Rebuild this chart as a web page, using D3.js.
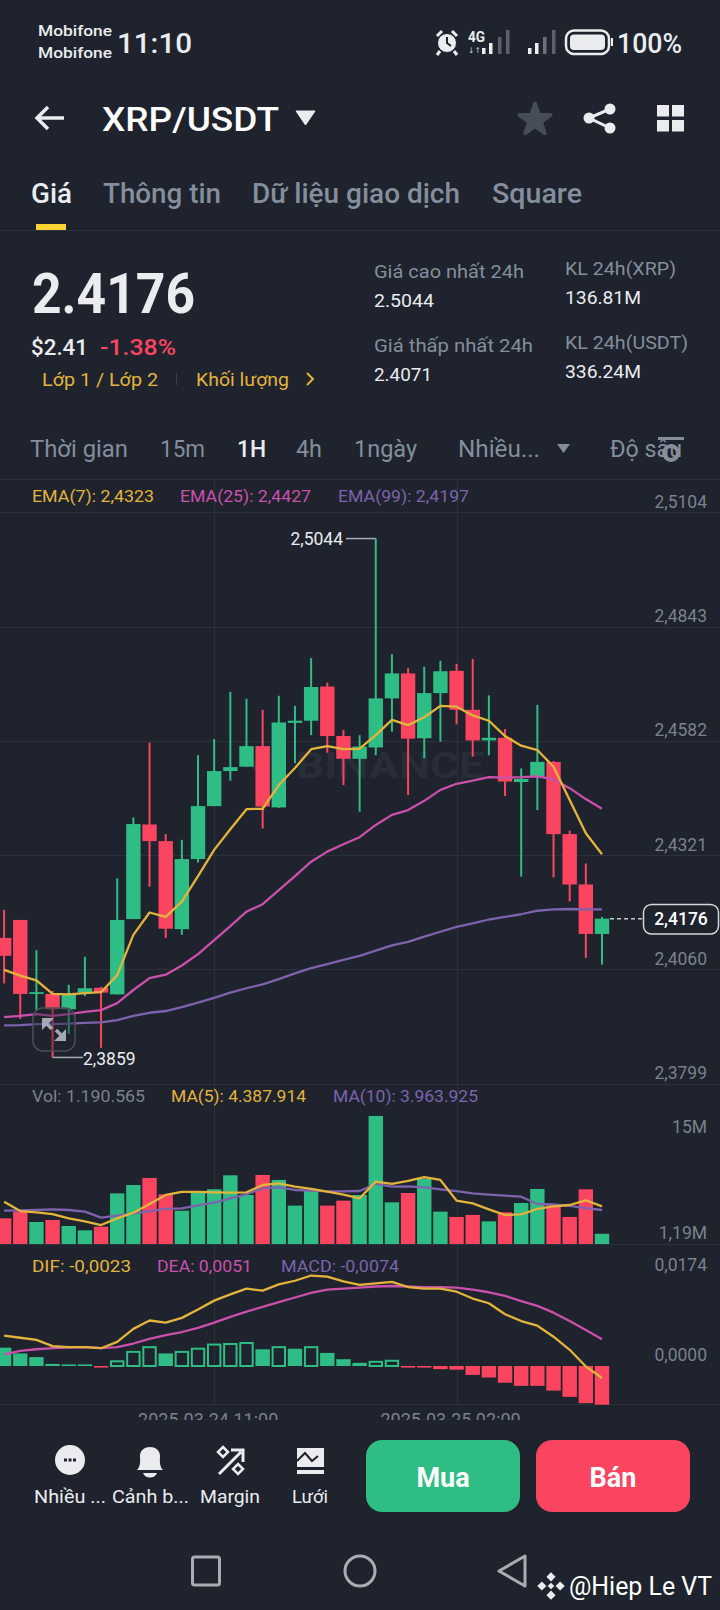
<!DOCTYPE html>
<html>
<head>
<meta charset="utf-8">
<script src="https://cdn.jsdelivr.net/npm/d3@7"></script>
<style>
html, body { margin: 0; background: #1e232d; }
svg { display: block; font-family: Roboto, "Noto Sans", sans-serif; }
.tick line, .domain { shape-rendering: crispEdges; }
</style>
</head>
<body>
<script>
// values
const open = [2.4132,2.4173,2.4004,2.4004,2.3969,2.4007,2.4018,2.4003,2.4175,2.4391,2.4353,2.4152,2.4312,2.4433,2.4513,2.4523,2.4570,2.4430,2.4623,2.4628,2.4706,2.4593,2.4541,2.4567,2.4679,2.4736,2.4588,2.4691,2.4742,2.4653,2.4583,2.4589,2.4488,2.4500,2.4534,2.4369,2.4254,2.4141]
const close = [2.4091,2.4004,2.4008,2.3969,2.4004,2.4017,2.4007,2.4173,2.4392,2.4353,2.4153,2.4312,2.4433,2.4513,2.4522,2.4570,2.4432,2.4624,2.4628,2.4705,2.4593,2.4541,2.4569,2.4679,2.4736,2.4587,2.4691,2.4741,2.4653,2.4583,2.4589,2.4489,2.4495,2.4534,2.4369,2.4254,2.4141,2.4176]
const high = [2.4196,2.4173,2.4104,2.4011,2.4025,2.4089,2.4020,2.4268,2.4407,2.4578,2.4369,2.4356,2.4549,2.4586,2.4694,2.4678,2.4653,2.4685,2.4662,2.4771,2.4715,2.4607,2.4595,2.5044,2.4780,2.4748,2.4751,2.4765,2.4758,2.4769,2.4686,2.4609,2.4519,2.4664,2.4536,2.4377,2.4302,2.4180]
const low = [2.4028,2.3947,2.3967,2.3859,2.3913,2.3999,2.3881,2.4003,2.4175,2.4249,2.4132,2.4139,2.4304,2.4433,2.4491,2.4523,2.4382,2.4429,2.4531,2.4595,2.4555,2.4481,2.4420,2.4549,2.4603,2.4458,2.4542,2.4580,2.4620,2.4546,2.4549,2.4456,2.4272,2.4424,2.4270,2.4215,2.4086,2.4071]

const ema7 = [2.4059,2.4046,2.4035,2.4004,2.4003,2.4006,2.4008,2.4047,2.4139,2.4190,2.4180,2.4215,2.4273,2.4333,2.4380,2.4426,2.4427,2.4481,2.4520,2.4563,2.4570,2.4563,2.4564,2.4595,2.4630,2.4618,2.4636,2.4662,2.4660,2.4640,2.4628,2.4593,2.4571,2.4561,2.4523,2.4447,2.4371,2.4323]
const ema25 = [2.3951,2.3954,2.3958,2.3954,2.3958,2.3963,2.3967,2.3983,2.4013,2.4040,2.4048,2.4069,2.4095,2.4127,2.4159,2.4192,2.4209,2.4241,2.4273,2.4306,2.4329,2.4346,2.4362,2.4390,2.4413,2.4424,2.4445,2.4470,2.4484,2.4491,2.4499,2.4498,2.4499,2.4501,2.4494,2.4474,2.4449,2.4427]
const ema99 = [2.3932,2.3933,2.3935,2.3935,2.3936,2.3938,2.3939,2.3944,2.3954,2.3961,2.3965,2.3974,2.3984,2.3995,2.4007,2.4017,2.4026,2.4038,2.4051,2.4063,2.4072,2.4082,2.4091,2.4103,2.4115,2.4123,2.4135,2.4146,2.4157,2.4165,2.4174,2.4180,2.4186,2.4194,2.4197,2.4198,2.4197,2.4197]

// millions
const volume = [2.99,3.77,2.56,2.80,2.10,1.59,2.02,5.90,6.87,7.69,5.79,3.88,5.98,6.37,8.00,5.71,8.04,7.46,4.47,6.17,4.47,5.05,5.71,14.91,4.85,5.94,7.61,3.77,3.15,3.38,2.64,3.69,4.78,6.41,4.54,3.15,6.37,1.19]
const volMa5 = [4.93,3.84,3.69,3.49,2.99,2.64,2.21,2.99,3.65,4.66,5.71,6.06,6.06,6.02,5.98,6.02,6.87,7.07,6.68,6.41,6.10,5.75,5.32,7.26,6.99,7.34,7.80,7.46,5.05,4.74,4.04,3.38,3.46,4.08,4.39,4.54,5.09,4.39]
const volMa10 = [3.88,3.92,3.96,4.04,3.96,3.77,3.07,3.30,3.57,3.84,4.08,4.15,4.50,4.81,5.32,5.79,6.48,6.60,6.29,6.21,6.14,6.14,6.17,6.99,6.68,6.72,6.60,6.37,6.17,5.90,5.75,5.63,5.51,4.66,4.62,4.43,4.19,3.96]

const dif = [.0058,.0054,.0050,.0038,.0036,.0036,.0034,.0046,.0071,.0087,.0083,.0092,.0108,.0125,.0137,.0148,.0144,.0156,.0163,.0173,.0171,.0162,.0155,.0158,.0161,.0151,.0148,.0148,.0142,.0129,.0120,.0099,.0086,.0077,.0056,.0031,-.0001,-.0023]
const dea = [.0022,.0029,.0032,.0034,.0035,.0036,.0034,.0036,.0043,.0052,.0059,.0065,.0073,.0083,.0094,.0104,.0113,.0122,.0131,.0140,.0146,.0148,.0150,.0152,.0153,.0152,.0151,.0151,.0150,.0146,.0141,.0134,.0124,.0115,.0102,.0086,.0069,.0051]
const macd = [.0035,.0024,.0017,.0004,.0003,.0003,-.0003,.0009,.0027,.0036,.0024,.0027,.0033,.0041,.0042,.0044,.0032,.0036,.0033,.0036,.0025,.0013,.0006,.0008,.0010,-.0003,-.0003,-.0006,-.0007,-.0017,-.0022,-.0032,-.0038,-.0038,-.0047,-.0059,-.0071,-.0074]

const priceTicks = [2.5104,2.4843,2.4582,2.4321,2.4060,2.3799]
const volTicks = [15,1.19]
const macdTicks = [.0174,0]
const timeTicks = [new Date(Date.UTC(2025,2,24,11)), new Date(Date.UTC(2025,2,25,2))]
const firstTime = new Date(Date.UTC(2025,2,23,22))
const times = open.map((d, i) => d3.utcHour.offset(firstTime, i))

const bg = '#1e232d'
const green = '#2ebd85'
const red = '#fb4560'
const gridColor = '#2c313b'
const grey = '#848e9c'
const axisGrey = '#7b818c'
const white = '#eaecef'
const yellow = '#e3b43c'
const pink = '#cb50ab'
const purple = '#7d63ad'

const width = 720
const height = 1610
const candleW = 14.4

const svg = d3.select('body').append('svg')
		.attr('width', width)
		.attr('height', height)

svg.append('rect').attr('width', width).attr('height', height).attr('fill', bg)

const x = d3.scaleUtc()
	.domain([firstTime, times[times.length - 1]])
	.range([4.1, 602])

const yPrice = d3.scaleLinear().domain([2.3799, 2.5104]).range([1083.7, 512.3])
const yVol = d3.scaleLinear().domain([0, 15]).range([1244, 1115.2])
const yMacd = d3.scaleLinear().domain([-.0074, .0174]).range([1404.7, 1275])

function text(px, py, str, size, fill, opts = {}) {
	const t = (opts.parent || svg).append('text')
		.attr('x', px)
		.attr('y', py)
		.attr('font-size', size)
		.attr('fill', fill)
		.attr('font-weight', opts.weight || 400)
		.attr('text-anchor', opts.anchor || 'start')
		.text(str)
	if (opts.w) t.attr('textLength', opts.w).attr('lengthAdjust', 'spacingAndGlyphs')
	return t
}

// vertical grid and the time labels under the panes
const timeAxis = svg.append('g')
	.attr('transform', 'translate(0,1404)')
	.call(d3.axisBottom(x)
		.tickValues(timeTicks)
		.tickSize(-924)
		.tickPadding(9)
		.tickFormat(d3.utcFormat('%Y-%m-%d %H:%M')))
timeAxis.select('.domain').remove()
timeAxis.selectAll('line').attr('stroke', gridColor)
timeAxis.selectAll('text')
	.attr('dx', -6.5)
	.attr('font-size', 18)
	.attr('fill', axisGrey)
	.attr('font-family', 'Roboto')

// right hand axes, the labels sit just above their grid line
function rightAxis(scale, ticks, fmt) {
	const g = svg.append('g')
		.call(d3.axisRight(scale).tickValues(ticks).tickSize(width).tickFormat(fmt))
	g.select('.domain').remove()
	g.selectAll('line').attr('stroke', gridColor)
	g.selectAll('text')
		.attr('x', 707)
		.attr('dy', -5)
		.attr('text-anchor', 'end')
		.attr('font-size', 17.5)
		.attr('fill', axisGrey)
		.attr('font-family', 'Roboto')
	return g
}

const comma = d => d.toFixed(4).replace('.', ',')

rightAxis(yPrice, priceTicks, comma)
rightAxis(yMacd, macdTicks, comma).selectAll('line').attr('stroke', 'none')
const volAxis = rightAxis(yVol, volTicks, d => d === 15 ? '15M' : '1,19M')
volAxis.selectAll('line').attr('stroke', 'none')
volAxis.selectAll('text').attr('dy', d => d === 15 ? 17 : 5)

// pane borders
svg.append('g').selectAll('line')
		.data([479.5, 1244.5, 1404.5])
	.enter().append('line')
		.attr('x1', 0)
		.attr('x2', width)
		.attr('y1', d => d)
		.attr('y2', d => d)
		.attr('stroke', gridColor)
		.attr('shape-rendering', 'crispEdges')

function binanceLogo(parent, cx, cy, s, fill) {
	const g = parent.append('g').attr('transform', `translate(${cx},${cy}) rotate(45)`).attr('fill', fill)
	const cells = [[-1, -1], [1, -1], [-1, 1], [1, 1]]
	g.selectAll('rect.c')
			.data(cells)
		.enter().append('rect')
			.attr('x', d => d[0] * s * .72 - s * .36)
			.attr('y', d => d[1] * s * .72 - s * .36)
			.attr('width', s * .72)
			.attr('height', s * .72)
	g.append('rect').attr('x', -s * .26).attr('y', -s * .26).attr('width', s * .52).attr('height', s * .52)
}

// watermark behind the candles
binanceLogo(svg, 266, 765, 11, '#2a2f39')
text(296, 778, 'BINANCE', 36, '#282d37', { weight: 700, w: 188 })

// candles
const candle = svg.append('g').selectAll('.candle')
		.data(times.map((t, i) => ({ t, o: open[i], c: close[i], h: high[i], l: low[i] })))
	.enter().append('g')
		.attr('class', 'candle')
		.attr('fill', d => d.c >= d.o ? green : red)

candle.append('rect')
	.attr('x', d => x(d.t) - 1)
	.attr('width', 2)
	.attr('y', d => yPrice(d.h))
	.attr('height', d => yPrice(d.l) - yPrice(d.h))

candle.append('rect')
	.attr('x', d => x(d.t) - candleW / 2)
	.attr('width', candleW)
	.attr('y', d => yPrice(Math.max(d.o, d.c)))
	.attr('height', d => Math.max(1.5, Math.abs(yPrice(d.o) - yPrice(d.c))))

function drawLine(scale, values, color) {
	svg.append('path')
		.datum(values)
		.attr('fill', 'none')
		.attr('stroke', color)
		.attr('stroke-width', 2.3)
		.attr('stroke-linejoin', 'round')
		.attr('d', d3.line().x((d, i) => x(times[i])).y(d => scale(d)))
}

drawLine(yPrice, ema99, purple)
drawLine(yPrice, ema25, pink)
drawLine(yPrice, ema7, yellow)

// high / low callouts
const calloutG = svg.append('g')
const maxPrice = d3.max(high)
const minPrice = d3.min(low)
calloutG.append('path')
	.attr('d', `M346 ${yPrice(maxPrice)}H${x(times[high.indexOf(maxPrice)])}`)
	.attr('stroke', '#a9adb3').attr('stroke-width', 1.5)
calloutG.append('path')
	.attr('d', `M${x(times[low.indexOf(minPrice)])} ${yPrice(minPrice)}H83`)
	.attr('stroke', '#a9adb3').attr('stroke-width', 1.5)
text(343, yPrice(maxPrice) + 6, comma(maxPrice), 17.5, white, { anchor: 'end' })
text(83, yPrice(minPrice) + 8, comma(minPrice), 17.5, white)

// last price tag
const lastY = yPrice(close[close.length - 1])
svg.append('path')
	.attr('d', `M610 ${lastY}H643`)
	.attr('stroke', '#c9ccd1').attr('stroke-width', 1.5).attr('stroke-dasharray', '4 3')
svg.append('rect')
	.attr('x', 643.5).attr('y', 904.5).attr('width', 75).attr('height', 29.5).attr('rx', 8)
	.attr('fill', bg).attr('stroke', '#d5d8dc').attr('stroke-width', 1.5)
text(681, 925, comma(close[close.length - 1]), 17.5, '#ffffff', { anchor: 'middle', weight: 500 })

// expand button floating on the chart
const expand = svg.append('g')
expand.append('rect')
	.attr('x', 33).attr('y', 1008).attr('width', 42).attr('height', 43).attr('rx', 10)
	.attr('fill', bg).attr('fill-opacity', .4).attr('stroke', '#4a4f59').attr('stroke-width', 1.5)
expand.append('path').attr('d', 'M42 1018H54L42 1030Z M66 1041H54L66 1029Z').attr('fill', '#a4a9b2')
expand.append('path').attr('d', 'M46 1023L52 1029 M62 1036L56 1030').attr('stroke', '#a4a9b2').attr('stroke-width', 3.5)

// legends
text(32, 502, 'EMA(7): 2,4323', 17, yellow, { w: 122 })
text(180, 502, 'EMA(25): 2,4427', 17, pink, { w: 131 })
text(338, 502, 'EMA(99): 2,4197', 17, purple, { w: 131 })
text(32, 1102, 'Vol: 1.190.565', 17, axisGrey, { w: 113 })
text(171, 1102, 'MA(5): 4.387.914', 17, yellow, { w: 135 })
text(333, 1102, 'MA(10): 3.963.925', 17, purple, { w: 145 })
text(32, 1272, 'DIF: -0,0023', 17, yellow, { w: 99 })
text(157, 1272, 'DEA: 0,0051', 17, pink, { w: 95 })
text(281, 1272, 'MACD: -0,0074', 17, purple, { w: 118 })

// volume pane
svg.append('g').selectAll('rect')
		.data(volume)
	.enter().append('rect')
		.attr('x', (d, i) => x(times[i]) - candleW / 2)
		.attr('width', candleW)
		.attr('y', d => yVol(d))
		.attr('height', d => yVol(0) - yVol(d))
		.attr('fill', (d, i) => close[i] >= open[i] ? green : red)

drawLine(yVol, volMa10, purple)
drawLine(yVol, volMa5, yellow)

// macd pane, a rising green bar is hollow
const isHollow = (d, i) => d > 0 && i > 0 && d > macd[i - 1]

svg.append('g').selectAll('rect')
		.data(macd)
	.enter().append('rect')
		.attr('x', (d, i) => x(times[i]) - candleW / 2 + (isHollow(d, i) ? 1 : 0))
		.attr('width', (d, i) => candleW - (isHollow(d, i) ? 2 : 0))
		.attr('y', d => yMacd(Math.max(d, 0)))
		.attr('height', d => Math.abs(yMacd(d) - yMacd(0)))
		.attr('fill', (d, i) => isHollow(d, i) ? 'none' : d > 0 ? green : red)
		.attr('stroke', (d, i) => isHollow(d, i) ? green : 'none')
		.attr('stroke-width', 2)

drawLine(yMacd, dea, pink)
drawLine(yMacd, dif, yellow)

// the toolbar hides the lower part of the time labels
svg.append('rect').attr('y', 1420).attr('width', width).attr('height', 190).attr('fill', bg)

// status bar
text(38, 36, 'Mobifone', 15, white, { weight: 500, w: 74 })
text(38, 58, 'Mobifone', 15, white, { weight: 500, w: 74 })
text(117, 53, '11:10', 28, white, { weight: 500, w: 75 })
svg.append('circle').attr('cx', 447).attr('cy', 43).attr('r', 9.5).attr('fill', white).attr('stroke', bg).attr('stroke-width', 1)
svg.append('path').attr('d', 'M447 37V43L451 46').attr('stroke', bg).attr('stroke-width', 2).attr('fill', 'none')
svg.append('path').attr('d', 'M437 36L442 31 M457 36L452 31 M440 51L437 55 M454 51L457 55').attr('stroke', white).attr('stroke-width', 3)
text(468, 42, '4G', 14, white, { weight: 700, w: 17 })
text(468, 53, '↓↑', 10, white, { weight: 700, w: 13 })

const signalBars = [[482, 48, white], [489, 43, white], [498, 37, '#5b606a'], [506, 30, '#5b606a'], [528, 48, white], [535, 43, white], [543, 37, '#6b707a'], [552, 30, '#5b606a']]
svg.append('g').selectAll('rect')
		.data(signalBars)
	.enter().append('rect')
		.attr('x', d => d[0])
		.attr('y', d => d[1])
		.attr('width', 3.5)
		.attr('height', d => 54 - d[1])
		.attr('fill', d => d[2])

svg.append('rect').attr('x', 566).attr('y', 30.5).attr('width', 43).attr('height', 23.5).attr('rx', 8).attr('fill', 'none').attr('stroke', white).attr('stroke-width', 2.5)
svg.append('rect').attr('x', 570).attr('y', 34.5).attr('width', 35).attr('height', 15.5).attr('rx', 4).attr('fill', white)
svg.append('rect').attr('x', 611).attr('y', 38).attr('width', 2).attr('height', 8).attr('fill', white)
text(617, 53, '100%', 27, white, { weight: 500, w: 65 })

// header
svg.append('path').attr('d', 'M64 118H38 M48 107L37 118L48 129').attr('stroke', white).attr('stroke-width', 3.5).attr('fill', 'none')
text(102, 131, 'XRP/USDT', 34, '#ffffff', { weight: 500, w: 177 })
svg.append('path').attr('d', 'M296 111H315L305.5 125Z').attr('fill', white).attr('stroke', white).attr('stroke-linejoin', 'round')
svg.append('path').attr('d', d3.symbol(d3.symbolStar).size(300)())
	.attr('transform', 'translate(535,120)')
	.attr('fill', '#474d57').attr('stroke', '#474d57').attr('stroke-width', 4).attr('stroke-linejoin', 'round')
svg.append('path').attr('d', 'M610 109L589 118L610 128').attr('stroke', white).attr('stroke-width', 3).attr('fill', 'none')
svg.append('g').attr('fill', white).selectAll('circle')
		.data([[610, 109], [589, 118], [610, 128]])
	.enter().append('circle')
		.attr('cx', d => d[0]).attr('cy', d => d[1]).attr('r', 5.5)
svg.append('g').attr('fill', white).selectAll('rect')
		.data([[657, 105], [672, 105], [657, 120], [672, 120]])
	.enter().append('rect')
		.attr('x', d => d[0]).attr('y', d => d[1]).attr('width', 12).attr('height', 11.5)

// tabs
text(31, 203, 'Giá', 27, white, { weight: 500, w: 41 })
text(103, 203, 'Thông tin', 27, grey, { weight: 500, w: 118 })
text(252, 203, 'Dữ liệu giao dịch', 27, grey, { weight: 500, w: 208 })
text(492, 203, 'Square', 27, grey, { weight: 500, w: 90 })
svg.append('rect').attr('x', 36).attr('y', 224).attr('width', 30).attr('height', 6).attr('fill', '#fcd535')
svg.append('rect').attr('y', 230).attr('width', width).attr('height', 1).attr('fill', gridColor)

// price block
text(32, 313, '2.4176', 56, white, { weight: 700, w: 163 })
text(31, 355, '$2.41', 22, white, { weight: 500, w: 57 })
text(100, 355, '-1.38%', 22, red, { weight: 500, w: 76 })
text(42, 386, 'Lớp 1 / Lớp 2', 19, yellow, { w: 116 })
svg.append('rect').attr('x', 176).attr('y', 373).attr('width', 1).attr('height', 12).attr('fill', '#3a3f49')
text(196, 386, 'Khối lượng', 19, yellow, { w: 93 })
svg.append('path').attr('d', 'M307 373L313 379L307 385').attr('stroke', yellow).attr('stroke-width', 2).attr('fill', 'none')
text(374, 278, 'Giá cao nhất 24h', 19, grey, { w: 150 })
text(374, 307, '2.5044', 18.5, white, { w: 60 })
text(374, 352, 'Giá thấp nhất 24h', 19, grey, { w: 159 })
text(374, 381, '2.4071', 18.5, white, { w: 58 })
text(565, 275, 'KL 24h(XRP)', 19, grey, { w: 111 })
text(565, 304, '136.81M', 18.5, white, { w: 76 })
text(565, 349, 'KL 24h(USDT)', 19, grey, { w: 123 })
text(565, 378, '336.24M', 18.5, white, { w: 76 })

// interval row
text(30, 457, 'Thời gian', 23, grey, { w: 98 })
text(160, 457, '15m', 23, grey, { w: 45 })
text(237, 457, '1H', 23, white, { weight: 500, w: 29 })
text(296, 457, '4h', 23, grey, { w: 26 })
text(354, 457, '1ngày', 23, grey, { w: 63 })
text(458, 457, 'Nhiều...', 23, grey, { w: 82 })
svg.append('path').attr('d', 'M557 444H570L563.5 453Z').attr('fill', grey)
text(610, 457, 'Độ sâu', 23, grey, { w: 72 })
svg.append('rect').attr('x', 658).attr('y', 437).attr('width', 26).attr('height', 3).attr('fill', grey)
svg.append('circle').attr('cx', 671).attr('cy', 453).attr('r', 7).attr('fill', 'none').attr('stroke', grey).attr('stroke-width', 4)

// bottom toolbar
svg.append('circle').attr('cx', 70).attr('cy', 1460).attr('r', 15).attr('fill', white)
svg.append('g').attr('fill', bg).selectAll('rect')
		.data([-6, -1.5, 3])
	.enter().append('rect')
		.attr('x', d => 70 + d).attr('y', 1458.5).attr('width', 3).attr('height', 3)
svg.append('path').attr('d', 'M137 1470C141 1466 140 1460 140 1456C140 1444 160 1444 160 1456C160 1460 159 1466 163 1470Z M143 1473H157C155 1479 145 1479 143 1473Z').attr('fill', white)
svg.append('path').attr('d', 'M219 1474L241 1452 M231 1450H243V1462').attr('stroke', white).attr('stroke-width', 3).attr('fill', 'none')
svg.append('path').attr('d', 'M223 1447L228 1452L223 1457L218 1452Z M238 1464L243 1469L238 1474L233 1469Z').attr('fill', 'none').attr('stroke', white).attr('stroke-width', 2.5)
svg.append('path').attr('d', 'M297 1448H324V1467H297Z').attr('fill', white)
svg.append('path').attr('d', 'M297 1461L305 1453L312 1461L318 1456').attr('fill', 'none').attr('stroke', bg).attr('stroke-width', 2)
svg.append('rect').attr('x', 297).attr('y', 1470).attr('width', 27).attr('height', 4).attr('fill', white)

text(34, 1503, 'Nhiều ...', 19, white, { w: 72 })
text(112, 1503, 'Cảnh b...', 19, white, { w: 77 })
text(200, 1503, 'Margin', 19, white, { w: 60 })
text(292, 1503, 'Lưới', 19, white, { w: 36 })

svg.append('rect').attr('x', 366).attr('y', 1440).attr('width', 154).attr('height', 72).attr('rx', 16).attr('fill', green)
svg.append('rect').attr('x', 536).attr('y', 1440).attr('width', 154).attr('height', 72).attr('rx', 16).attr('fill', red)
text(443, 1487, 'Mua', 27, '#ffffff', { weight: 700, anchor: 'middle' })
text(613, 1487, 'Bán', 27, '#ffffff', { weight: 700, anchor: 'middle' })

// android nav bar
svg.append('rect').attr('x', 192.5).attr('y', 1557).attr('width', 27).attr('height', 28).attr('rx', 2).attr('fill', 'none').attr('stroke', '#a9adb3').attr('stroke-width', 3)
svg.append('circle').attr('cx', 360).attr('cy', 1571).attr('r', 15).attr('fill', 'none').attr('stroke', '#a9adb3').attr('stroke-width', 3)
svg.append('path').attr('d', 'M525 1556V1586L499 1571Z').attr('fill', 'none').attr('stroke', '#a9adb3').attr('stroke-width', 3).attr('stroke-linejoin', 'round')

binanceLogo(svg, 551, 1586, 9, '#eaecef')
text(569, 1595, '@Hiep Le VT', 25, '#ffffff', { w: 143 })
</script>
</body>
</html>
